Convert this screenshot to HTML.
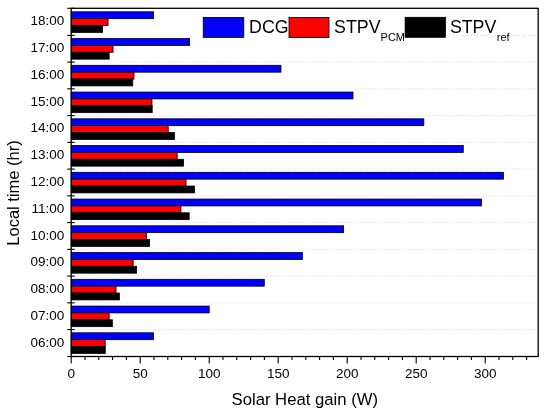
<!DOCTYPE html>
<html><head><meta charset="utf-8"><title>Solar Heat gain</title>
<style>
html,body{margin:0;padding:0;background:#fff;}
body{width:550px;height:412px;overflow:hidden;}
svg{display:block;}
text{font-family:"Liberation Sans",Arial,sans-serif;fill:#000;}
</style></head><body>
<svg width="550" height="412" viewBox="0 0 550 412">
<rect x="0" y="0" width="550" height="412" fill="#fff"/>
<g stroke="#d9d9d9" stroke-width="1" stroke-dasharray="1,2">
<line x1="447" y1="35.35" x2="537.2" y2="35.35"/>
<line x1="72.2" y1="62.1" x2="537.2" y2="62.1"/>
<line x1="72.2" y1="88.85" x2="537.2" y2="88.85"/>
<line x1="72.2" y1="115.6" x2="537.2" y2="115.6"/>
<line x1="72.2" y1="142.35" x2="537.2" y2="142.35"/>
<line x1="72.2" y1="169.1" x2="537.2" y2="169.1"/>
<line x1="72.2" y1="195.85" x2="537.2" y2="195.85"/>
<line x1="72.2" y1="222.6" x2="537.2" y2="222.6"/>
<line x1="72.2" y1="249.35" x2="537.2" y2="249.35"/>
<line x1="72.2" y1="276.1" x2="537.2" y2="276.1"/>
<line x1="72.2" y1="302.85" x2="537.2" y2="302.85"/>
<line x1="72.2" y1="329.6" x2="537.2" y2="329.6"/>
</g>
<g stroke="#000" stroke-width="0.8">
<rect x="71.2" y="11.8" width="82.4" height="6.87" fill="#0000ff"/>
<rect x="71.2" y="18.67" width="36.86" height="6.87" fill="#ff0000"/>
<rect x="71.2" y="25.54" width="31.34" height="6.87" fill="#000000"/>
<rect x="71.2" y="38.55" width="118.42" height="6.87" fill="#0000ff"/>
<rect x="71.2" y="45.42" width="41.83" height="6.87" fill="#ff0000"/>
<rect x="71.2" y="52.29" width="37.96" height="6.87" fill="#000000"/>
<rect x="71.2" y="65.3" width="209.77" height="6.87" fill="#0000ff"/>
<rect x="71.2" y="72.17" width="62.8" height="6.87" fill="#ff0000"/>
<rect x="71.2" y="79.04" width="61.56" height="6.87" fill="#000000"/>
<rect x="71.2" y="92.05" width="281.81" height="6.87" fill="#0000ff"/>
<rect x="71.2" y="98.92" width="80.74" height="6.87" fill="#ff0000"/>
<rect x="71.2" y="105.79" width="81.02" height="6.87" fill="#000000"/>
<rect x="71.2" y="118.8" width="352.6" height="6.87" fill="#0000ff"/>
<rect x="71.2" y="125.67" width="97.03" height="6.87" fill="#ff0000"/>
<rect x="71.2" y="132.54" width="103.24" height="6.87" fill="#000000"/>
<rect x="71.2" y="145.55" width="392.07" height="6.87" fill="#0000ff"/>
<rect x="71.2" y="152.42" width="106" height="6.87" fill="#ff0000"/>
<rect x="71.2" y="159.29" width="112.35" height="6.87" fill="#000000"/>
<rect x="71.2" y="172.3" width="432.23" height="6.87" fill="#0000ff"/>
<rect x="71.2" y="179.17" width="114.83" height="6.87" fill="#ff0000"/>
<rect x="71.2" y="186.04" width="123.25" height="6.87" fill="#000000"/>
<rect x="71.2" y="199.05" width="410.29" height="6.87" fill="#0000ff"/>
<rect x="71.2" y="205.92" width="109.72" height="6.87" fill="#ff0000"/>
<rect x="71.2" y="212.79" width="118" height="6.87" fill="#000000"/>
<rect x="71.2" y="225.8" width="272.43" height="6.87" fill="#0000ff"/>
<rect x="71.2" y="232.67" width="75.22" height="6.87" fill="#ff0000"/>
<rect x="71.2" y="239.54" width="78.4" height="6.87" fill="#000000"/>
<rect x="71.2" y="252.55" width="231.16" height="6.87" fill="#0000ff"/>
<rect x="71.2" y="259.42" width="61.98" height="6.87" fill="#ff0000"/>
<rect x="71.2" y="266.29" width="65.43" height="6.87" fill="#000000"/>
<rect x="71.2" y="279.3" width="193.08" height="6.87" fill="#0000ff"/>
<rect x="71.2" y="286.17" width="44.86" height="6.87" fill="#ff0000"/>
<rect x="71.2" y="293.04" width="48.31" height="6.87" fill="#000000"/>
<rect x="71.2" y="306.05" width="138.01" height="6.87" fill="#0000ff"/>
<rect x="71.2" y="312.92" width="37.96" height="6.87" fill="#ff0000"/>
<rect x="71.2" y="319.79" width="41.14" height="6.87" fill="#000000"/>
<rect x="71.2" y="332.8" width="82.26" height="6.87" fill="#0000ff"/>
<rect x="71.2" y="339.67" width="33.96" height="6.87" fill="#ff0000"/>
<rect x="71.2" y="346.54" width="34.1" height="6.87" fill="#000000"/>
</g>
<rect x="71.2" y="8.3" width="467" height="348.2" fill="none" stroke="#000" stroke-width="1.3"/>
<g stroke="#000" stroke-width="1.1">
<line x1="67.2" y1="8.3" x2="74.7" y2="8.3"/>
<line x1="67.2" y1="35.35" x2="74.7" y2="35.35"/>
<line x1="67.2" y1="62.1" x2="74.7" y2="62.1"/>
<line x1="67.2" y1="88.85" x2="74.7" y2="88.85"/>
<line x1="67.2" y1="115.6" x2="74.7" y2="115.6"/>
<line x1="67.2" y1="142.35" x2="74.7" y2="142.35"/>
<line x1="67.2" y1="169.1" x2="74.7" y2="169.1"/>
<line x1="67.2" y1="195.85" x2="74.7" y2="195.85"/>
<line x1="67.2" y1="222.6" x2="74.7" y2="222.6"/>
<line x1="67.2" y1="249.35" x2="74.7" y2="249.35"/>
<line x1="67.2" y1="276.1" x2="74.7" y2="276.1"/>
<line x1="67.2" y1="302.85" x2="74.7" y2="302.85"/>
<line x1="67.2" y1="329.6" x2="74.7" y2="329.6"/>
<line x1="67.2" y1="356.5" x2="74.7" y2="356.5"/>
</g>
<g stroke="#000" stroke-width="1.1">
<line x1="71.2" y1="356.5" x2="71.2" y2="363.5"/>
<line x1="85" y1="356.5" x2="85" y2="360.1"/>
<line x1="98.8" y1="356.5" x2="98.8" y2="360.1"/>
<line x1="112.6" y1="356.5" x2="112.6" y2="360.1"/>
<line x1="126.4" y1="356.5" x2="126.4" y2="360.1"/>
<line x1="140.2" y1="356.5" x2="140.2" y2="363.5"/>
<line x1="154" y1="356.5" x2="154" y2="360.1"/>
<line x1="167.8" y1="356.5" x2="167.8" y2="360.1"/>
<line x1="181.6" y1="356.5" x2="181.6" y2="360.1"/>
<line x1="195.4" y1="356.5" x2="195.4" y2="360.1"/>
<line x1="209.2" y1="356.5" x2="209.2" y2="363.5"/>
<line x1="223" y1="356.5" x2="223" y2="360.1"/>
<line x1="236.8" y1="356.5" x2="236.8" y2="360.1"/>
<line x1="250.6" y1="356.5" x2="250.6" y2="360.1"/>
<line x1="264.4" y1="356.5" x2="264.4" y2="360.1"/>
<line x1="278.2" y1="356.5" x2="278.2" y2="363.5"/>
<line x1="292" y1="356.5" x2="292" y2="360.1"/>
<line x1="305.8" y1="356.5" x2="305.8" y2="360.1"/>
<line x1="319.6" y1="356.5" x2="319.6" y2="360.1"/>
<line x1="333.4" y1="356.5" x2="333.4" y2="360.1"/>
<line x1="347.2" y1="356.5" x2="347.2" y2="363.5"/>
<line x1="361" y1="356.5" x2="361" y2="360.1"/>
<line x1="374.8" y1="356.5" x2="374.8" y2="360.1"/>
<line x1="388.6" y1="356.5" x2="388.6" y2="360.1"/>
<line x1="402.4" y1="356.5" x2="402.4" y2="360.1"/>
<line x1="416.2" y1="356.5" x2="416.2" y2="363.5"/>
<line x1="430" y1="356.5" x2="430" y2="360.1"/>
<line x1="443.8" y1="356.5" x2="443.8" y2="360.1"/>
<line x1="457.6" y1="356.5" x2="457.6" y2="360.1"/>
<line x1="471.4" y1="356.5" x2="471.4" y2="360.1"/>
<line x1="485.2" y1="356.5" x2="485.2" y2="363.5"/>
<line x1="499" y1="356.5" x2="499" y2="360.1"/>
<line x1="512.8" y1="356.5" x2="512.8" y2="360.1"/>
<line x1="526.6" y1="356.5" x2="526.6" y2="360.1"/>
</g>
<g font-size="13.5" text-anchor="end">
<text x="64.2" y="25.2">18:00</text>
<text x="64.2" y="51.99">17:00</text>
<text x="64.2" y="78.78">16:00</text>
<text x="64.2" y="105.57">15:00</text>
<text x="64.2" y="132.36">14:00</text>
<text x="64.2" y="159.15">13:00</text>
<text x="64.2" y="185.94">12:00</text>
<text x="64.2" y="212.73">11:00</text>
<text x="64.2" y="239.52">10:00</text>
<text x="64.2" y="266.31">09:00</text>
<text x="64.2" y="293.1">08:00</text>
<text x="64.2" y="319.89">07:00</text>
<text x="64.2" y="346.68">06:00</text>
</g>
<g font-size="13.5" text-anchor="middle">
<text x="71.2" y="378.4">0</text>
<text x="140.2" y="378.4">50</text>
<text x="209.2" y="378.4">100</text>
<text x="278.2" y="378.4">150</text>
<text x="347.2" y="378.4">200</text>
<text x="416.2" y="378.4">250</text>
<text x="485.2" y="378.4">300</text>
</g>
<text x="304.8" y="404.8" font-size="16.7" text-anchor="middle">Solar Heat gain (W)</text>
<text transform="translate(18.7,193) rotate(-90)" font-size="16.5" text-anchor="middle">Local time (hr)</text>
<g stroke="#000" stroke-width="0.8">
<rect x="203.2" y="17.4" width="40.6" height="20" fill="#0000ff"/>
<rect x="289" y="17.5" width="40" height="20" fill="#ff0000"/>
<rect x="405.1" y="17.3" width="40.4" height="20" fill="#000"/>
</g>
<text x="249.1" y="33.3" font-size="17.8">DCG</text>
<text x="334.1" y="33.3" font-size="17.8">STPV</text>
<text x="380.6" y="40.5" font-size="11">PCM</text>
<text x="449.9" y="33.3" font-size="17.8">STPV</text>
<text x="496.8" y="40.5" font-size="11">ref</text>
</svg>
</body></html>
